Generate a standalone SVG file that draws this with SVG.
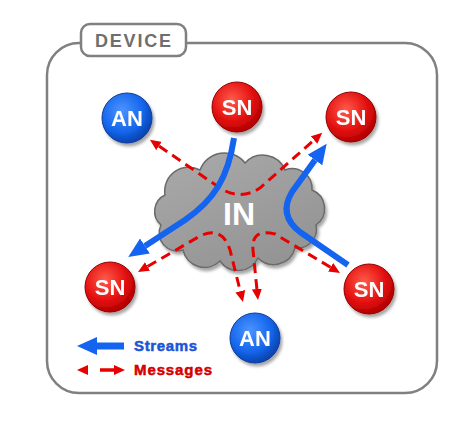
<svg xmlns="http://www.w3.org/2000/svg" width="474" height="426" viewBox="0 0 474 426">
<style>
.frame{fill:#fff;stroke:#808080;stroke-width:2.5}
.ntext{font-family:"Liberation Sans",Arial,sans-serif;font-weight:bold;font-size:22px;fill:#fff;text-anchor:middle}
.stream{fill:none;stroke:#1464f0;stroke-width:6}
.msg{fill:none;stroke:#e60000;stroke-width:3;stroke-dasharray:10 6}
.leg{font-family:"Liberation Sans",Arial,sans-serif;font-weight:bold;font-size:15px;stroke-width:0.5}
</style>
<defs>
<radialGradient id="gRed" cx="40%" cy="35%" r="65%">
<stop offset="0" stop-color="#ff5a4a"/>
<stop offset="0.65" stop-color="#e41010"/>
<stop offset="1" stop-color="#b40000"/>
</radialGradient>
<radialGradient id="gBlue" cx="40%" cy="35%" r="65%">
<stop offset="0" stop-color="#4c94ff"/>
<stop offset="0.65" stop-color="#1466ec"/>
<stop offset="1" stop-color="#0a44b0"/>
</radialGradient>
<linearGradient id="gCloud" x1="0" y1="0" x2="0.6" y2="1">
<stop offset="0" stop-color="#aaaaaa"/>
<stop offset="1" stop-color="#949494"/>
</linearGradient>
<filter id="sh" x="-30%" y="-30%" width="160%" height="160%">
<feDropShadow dx="2" dy="3" stdDeviation="1.5" flood-color="#000" flood-opacity="0.35"/>
</filter>
<marker id="sArrow" viewBox="0 0 20 18" refX="0" refY="9" markerWidth="20" markerHeight="18" markerUnits="userSpaceOnUse" orient="auto">
<path d="M0,0 L20,9 L0,18 z" fill="#1464f0"/>
</marker>
<marker id="mArrow" viewBox="0 0 11 10" refX="0" refY="5" markerWidth="11" markerHeight="10" markerUnits="userSpaceOnUse" orient="auto-start-reverse">
<path d="M0,0 L11,5 L0,10 z" fill="#e60000"/>
</marker>
</defs>

<g id="device">
<rect class="frame" x="47" y="43" width="390" height="350" rx="32"/>
<rect class="frame" x="81" y="24" width="105" height="32" rx="9"/>
<text x="133" y="47" font-family="Liberation Sans,Arial,sans-serif" font-weight="bold" font-size="18" fill="#6e6e6e" text-anchor="middle" textLength="76">DEVICE</text>
</g>

<g id="IN">
<path d="M165 195 A24 24 0 0 1 200 170 A26 26 0 0 1 245 163 A24 24 0 0 1 285 170 A20 20 0 0 1 312 190 A20 20 0 0 1 316 225 A19 19 0 0 1 295 248 A22 22 0 0 1 258 258 A22 22 0 0 1 220 261 A22 22 0 0 1 183 250 A18 18 0 0 1 161 225 A18 18 0 0 1 165 195 Z" fill="url(#gCloud)" stroke="#6a6a6a" stroke-width="1.5" filter="url(#sh)"/>
<text x="239" y="225" font-family="Liberation Sans,Arial,sans-serif" font-weight="bold" font-size="32" fill="#fff" text-anchor="middle">IN</text>
</g>

<g id="connectors">
<path class="msg" d="M159 146 L220 188 Q240 201 260 188 L314 140" marker-start="url(#mArrow)" marker-end="url(#mArrow)"/>
<path class="msg" d="M147.5 266.5 L200 236 Q222 225 230 250 L240.3 291.3" marker-start="url(#mArrow)" marker-end="url(#mArrow)"/>
<path class="msg" d="M256.9 289 L253 250 Q251 228 275 234 L330.6 267.3" marker-start="url(#mArrow)" marker-end="url(#mArrow)"/>
<path class="stream" d="M234 138 C228 178 214 200 185 220 L145 246" marker-end="url(#sArrow)"/>
<path class="stream" d="M348 265 L300 232 Q278 215 292 192 L315 160" marker-end="url(#sArrow)"/>
</g>

<g id="AN1" filter="url(#sh)"><circle cx="127" cy="118" r="25" fill="url(#gBlue)" stroke="#0a3a9a" stroke-width="1"/><text class="ntext" x="127" y="126">AN</text></g>
<g id="SN1" filter="url(#sh)"><circle cx="237" cy="107" r="25" fill="url(#gRed)" stroke="#900000" stroke-width="1"/><text class="ntext" x="237" y="115">SN</text></g>
<g id="SN2" filter="url(#sh)"><circle cx="351" cy="117" r="25" fill="url(#gRed)" stroke="#900000" stroke-width="1"/><text class="ntext" x="351" y="125">SN</text></g>
<g id="SN3" filter="url(#sh)"><circle cx="110" cy="287" r="25" fill="url(#gRed)" stroke="#900000" stroke-width="1"/><text class="ntext" x="110" y="295">SN</text></g>
<g id="SN4" filter="url(#sh)"><circle cx="369" cy="289" r="25" fill="url(#gRed)" stroke="#900000" stroke-width="1"/><text class="ntext" x="369" y="297">SN</text></g>
<g id="AN2" filter="url(#sh)"><circle cx="255" cy="338" r="25" fill="url(#gBlue)" stroke="#0a3a9a" stroke-width="1"/><text class="ntext" x="255" y="346">AN</text></g>

<g id="legend">
<path d="M77 346 L97 337 L97 342.5 L124 342.5 L124 349.5 L97 349.5 L97 355 Z" fill="#1464f0"/>
<text class="leg" x="134" y="351" fill="#1a55d8" stroke="#1a55d8" textLength="63">Streams</text>
<path d="M77 370 L88 365 L88 375 Z" fill="#e60000"/>
<line x1="100" y1="370" x2="115" y2="370" stroke="#e60000" stroke-width="3.5"/>
<path d="M114 365 L125 370 L114 375 Z" fill="#e60000"/>
<text class="leg" x="134" y="375" fill="#d40000" stroke="#d40000" textLength="78">Messages</text>
</g>
</svg>
